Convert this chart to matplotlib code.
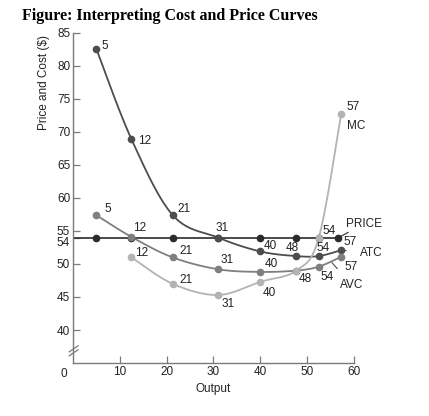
import numpy as np
import matplotlib
matplotlib.use("Agg")
import matplotlib.pyplot as plt
from matplotlib.transforms import ScaledTranslation

plt.rcParams['font.family'] = ['Liberation Sans', 'DejaVu Sans']

# Output quantities and where they sit on the horizontal axis
quantity = [5, 12, 21, 31, 40, 48, 54, 57]
x_pos = [5, 12.5, 21.3, 31, 40, 47.7, 52.5, 57.3]

atc = [82.6, 68.9, 57.4, 54.0, 51.9, 51.2, 51.2, 52.1]
avc = [57.4, 54.1, 51.0, 49.2, 48.8, 49.0, 49.6, 51.1]
mc = [None, 51.0, 47.0, 45.3, 47.3, 49.0, 54.0, 72.8]
price = 54

yticks = [40, 45, 50, 54, 55, 60, 65, 70, 75, 80, 85]
xticks = [10, 20, 30, 40, 50, 60]

c_atc, c_avc, c_mc, c_price = '#4d4d4d', '#7f7f7f', '#b3b3b3', '#2b2b2b'
c_axis = '#7a7a7a'
c_text = '#222222'


def smooth(xs, ys, n=30):
    # Catmull-Rom curve through the points
    px = [xs[0]] + list(xs) + [xs[-1]]
    py = [ys[0]] + list(ys) + [ys[-1]]
    ox, oy = [], []
    t = np.linspace(0, 1, n)
    for i in range(1, len(px) - 2):
        x0, x1, x2, x3 = px[i - 1:i + 3]
        y0, y1, y2, y3 = py[i - 1:i + 3]
        for a, b, c, d, out in ((x0, x1, x2, x3, ox), (y0, y1, y2, y3, oy)):
            out.extend(0.5 * (2 * b + (-a + c) * t + (2 * a - 5 * b + 4 * c - d) * t ** 2
                              + (-a + 3 * b - 3 * c + d) * t ** 3))
    return ox, oy


fig = plt.figure(figsize=(4.29, 4.16), dpi=100)
ax = fig.add_axes([0.170, 0.1274, 0.655, 0.7933])
ax.set_xlim(0, 60)
ax.set_ylim(35, 85)

# price line
ax.plot([0, x_pos[-1] - 0.6], [price, price], color=c_price, lw=1.2, zorder=2)
ax.plot(x_pos[:-1] + [x_pos[-1] - 0.6], [price] * len(x_pos), 'o',
        color=c_price, ms=4.5, zorder=2.5)

for vals, col in ((atc, c_atc), (avc, c_avc), (mc, c_mc)):
    xs = [x for x, v in zip(x_pos, vals) if v is not None]
    ys = [v for v in vals if v is not None]
    sx, sy = smooth(xs, ys)
    ax.plot(sx, sy, color=col, lw=1.3, zorder=2)
    ax.plot(xs, ys, 'o', color=col, ms=4.5, zorder=3)

# point labels: offsets in pixels (dx, dy)
atc_off = [(8, 3), (13, -2), (11, 6), (4, 10), (10, 5), (-4, 8), (4, 8), (9, 8)]
avc_off = [(11, 6), (8, 9), (13, 6), (9, 9), (11, 8), (9, -8), (8, -10), (10, -10)]
mc_off = [None, (10, 4), (13, 4), (10, -9), (9, -11), None, (10, 7), (12, 7)]

for vals, offs in ((atc, atc_off), (avc, avc_off), (mc, mc_off)):
    for q, x, v, o in zip(quantity, x_pos, vals, offs):
        if v is None or o is None:
            continue
        ax.annotate(str(q), (x, v), xytext=o, textcoords='offset pixels',
                    ha='center', va='center', fontsize=8.5, color=c_text)

# curve names with leader lines
ax.annotate('ATC', (x_pos[-1], atc[-1]), xytext=(30, -3), textcoords='offset pixels',
            ha='center', va='center', fontsize=8.5, color=c_text,
            arrowprops=dict(arrowstyle='-', color=c_atc, lw=0.8, shrinkA=8, shrinkB=2))
ax.annotate('AVC', (x_pos[-1] - 2.0, avc[-1] - 0.9), xytext=(20, -22), textcoords='offset pixels',
            ha='center', va='center', fontsize=8.5, color=c_text,
            arrowprops=dict(arrowstyle='-', color=c_atc, lw=0.8, shrinkA=7, shrinkB=0))
ax.annotate('MC', (x_pos[-1], mc[-1]), xytext=(15, -12), textcoords='offset pixels',
            ha='center', va='center', fontsize=8.5, color=c_text)
ax.annotate('PRICE', (x_pos[-1] - 0.6, price), xytext=(26, 14), textcoords='offset pixels',
            ha='center', va='center', fontsize=8.5, color=c_text,
            arrowprops=dict(arrowstyle='-', color=c_price, lw=0.8, shrinkA=19, shrinkB=2))

# axes styling
for s in ('top', 'right'):
    ax.spines[s].set_visible(False)
for s in ('left', 'bottom'):
    ax.spines[s].set_color(c_axis)
    ax.spines[s].set_linewidth(1.0)
ax.set_xticks(xticks)
ax.set_yticks(yticks)
ax.set_yticklabels([str(t) for t in yticks])
ax.tick_params(direction='in', length=5, width=0.9, color=c_axis, labelsize=8.5,
               labelcolor=c_text, pad=2)
for lab in ax.get_yticklabels():
    if lab.get_text() == '54':
        lab.set_transform(lab.get_transform() + ScaledTranslation(0, -4 / 100, fig.dpi_scale_trans))

# origin label and axis break
ax.text(-0.02, -0.015, '0', transform=ax.transAxes, ha='right', va='top',
        fontsize=8.5, color=c_text)
for dy in (0.0, 0.012):
    ax.plot([-0.013, 0.018], [0.022 + dy, 0.040 + dy], transform=ax.transAxes,
            color=c_axis, lw=0.9, clip_on=False)

ax.set_xlabel('Output', fontsize=8.5, color=c_text, labelpad=4)
ax.set_ylabel('Price and Cost ($)', fontsize=8.5, color=c_text)
ax.yaxis.set_label_coords(-0.08, 0.85)

fig.text(0.052, 0.962, 'Figure: Interpreting Cost and Price Curves', fontsize=11.5,
         fontweight='bold', family='Liberation Serif', ha='left', va='center')

fig.savefig('out.png', dpi=100)
